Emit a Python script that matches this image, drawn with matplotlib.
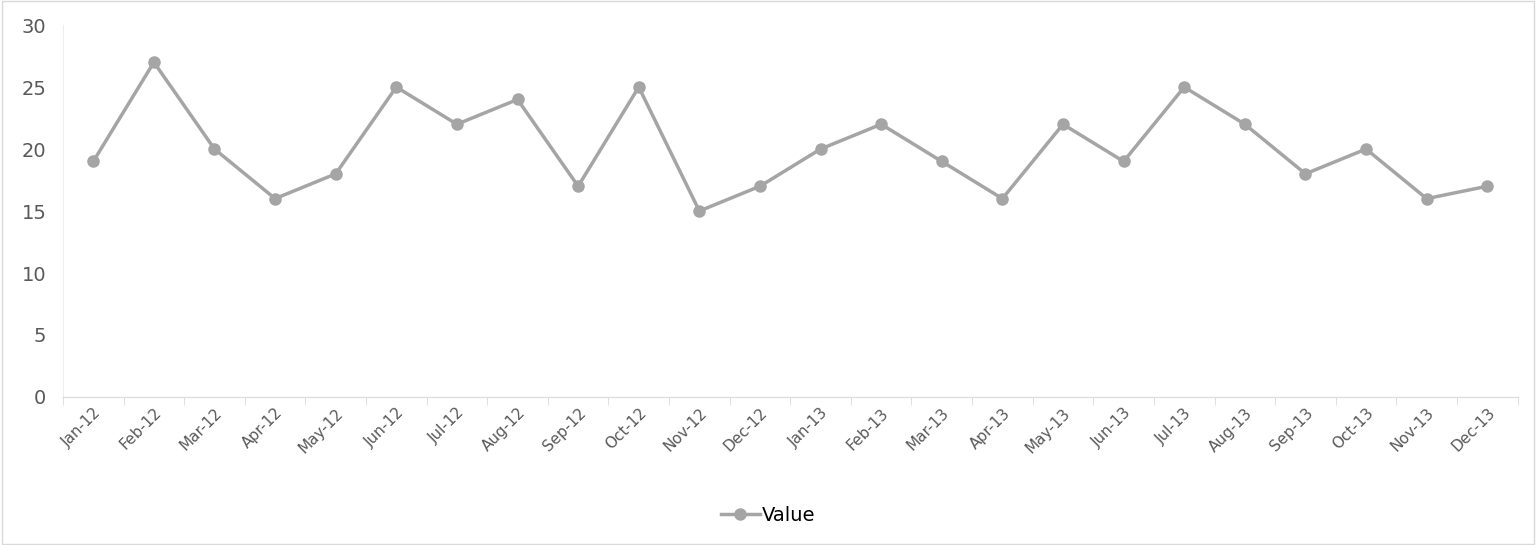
import matplotlib

matplotlib.use("Agg")
import matplotlib.pyplot as plt  # noqa: E402
import numpy as np  # noqa: E402

months = ["Jan-12", "Feb-12", "Mar-12", "Apr-12", "May-12", "Jun-12",
          "Jul-12", "Aug-12", "Sep-12", "Oct-12", "Nov-12", "Dec-12",
          "Jan-13", "Feb-13", "Mar-13", "Apr-13", "May-13", "Jun-13",
          "Jul-13", "Aug-13", "Sep-13", "Oct-13", "Nov-13", "Dec-13"]
values = [19, 27, 20, 16, 18, 25, 22, 24, 17, 25, 15, 17,
          20, 22, 19, 16, 22, 19, 25, 22, 18, 20, 16, 17]
y_ticks = [0, 5, 10, 15, 20, 25, 30]

text_col = "#595959"
line_col = "#a5a5a5"
axis_col = "#d9d9d9"

fig = plt.figure(figsize=(15.36, 5.45), dpi=100)
fig.patches.append(plt.Rectangle((0.001, 0.002), 0.998, 0.996, transform=fig.transFigure,
                                 fill=False, edgecolor=axis_col, lw=1))
ax = fig.add_axes([0.041, 0.2716, 0.947, 0.6824])

x = np.arange(len(months))
ax.plot(x, values, color=line_col, lw=2.5, marker="o", markersize=8, label="Value")

ax.set_xlim(-0.5, len(months) - 0.5)
ax.set_ylim(0, 30)
ax.set_yticks(y_ticks)
ax.set_xticks(x, months, rotation=45, ha="right", rotation_mode="anchor")
ax.set_xticks(np.arange(-0.5, len(months)), minor=True)
ax.tick_params(axis="x", which="major", length=0, labelsize=11, colors=text_col, pad=6)
ax.tick_params(axis="x", which="minor", length=6, color=axis_col)
ax.tick_params(axis="y", length=0, labelsize=14, colors=text_col, pad=12)

for side in ["top", "right"]:
    ax.spines[side].set_visible(False)
ax.spines["left"].set_color("#eeeeee")
ax.spines["bottom"].set_color(axis_col)

fig.legend(loc="center", bbox_to_anchor=(0.5, 0.055), frameon=False,
           fontsize=14, labelcolor="black", handlelength=2, handletextpad=0.1)

fig.savefig("out.png", dpi=100)
